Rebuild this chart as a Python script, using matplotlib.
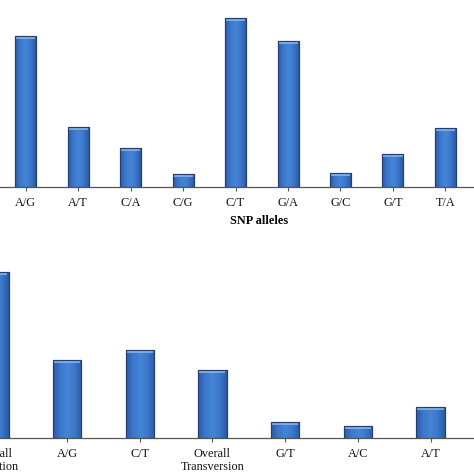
import numpy as np
import matplotlib
matplotlib.use("Agg")
import matplotlib.pyplot as plt
import matplotlib.transforms as mtransforms
from matplotlib.colors import LinearSegmentedColormap

# ---- data ----
top_categories = ["A/G", "A/T", "C/A", "C/G", "C/T", "G/A", "G/C", "G/T", "T/A"]
top_values = [151, 60, 39, 13, 169, 146, 14, 33, 59]
top_xlabel = "SNP alleles"

bottom_categories = ["Overall\nTransition", "A/G", "C/T", "Overall\nTransversion", "G/T", "A/C", "A/T"]
bottom_values = [166, 78, 88, 68, 16, 12, 31]

plt.rcParams["font.family"] = ["Liberation Serif", "DejaVu Serif"]

LABEL_SIZE = 8.8

fig = plt.figure(figsize=(4.74, 4.74), dpi=100)

cmap = LinearSegmentedColormap.from_list(
    "bar", ["#2c5aa2", "#3c78cc", "#4584d6", "#3c78cc", "#2c5aa2"])


def shade_bars(ax, bars):
    grad = np.linspace(0, 1, 64).reshape(1, -1)
    for b in bars:
        x0, y0 = b.get_x(), b.get_y()
        w, h = b.get_width(), b.get_height()
        im = ax.imshow(grad, cmap=cmap, aspect="auto",
                       extent=(x0, x0 + w, y0, y0 + h), zorder=2,
                       interpolation="bicubic")
        im.set_clip_path(b)
        hh = min(2.5, h * 0.3)
        ax.bar(x0 + w / 2, hh, width=w * 0.92, bottom=y0 + h - hh - 0.6,
               color="#8fb6ea", alpha=0.8, zorder=3, linewidth=0)
        ax.add_patch(plt.Rectangle((x0, y0), w, h, fill=False,
                                   edgecolor="#213f72", lw=0.8, zorder=4))


def style(ax):
    for s in ["left", "right", "top"]:
        ax.spines[s].set_visible(False)
    ax.spines["bottom"].set_color("#555555")
    ax.spines["bottom"].set_linewidth(0.9)
    ax.set_yticks([])
    ax.tick_params(axis="x", length=3, width=0.8, color="#555555",
                   labelsize=LABEL_SIZE, pad=4, labelcolor="#111111")


# top chart
ax1 = fig.add_axes([0.0, (474 - 187) / 474, 1.0, 180 / 474])
x1 = np.arange(len(top_categories))
bars1 = ax1.bar(x1, top_values, width=0.4, color="#3c78cc",
                edgecolor="#213f72", linewidth=0.8, zorder=1)
shade_bars(ax1, bars1)
ax1.set_xticks(x1)
ax1.set_xticklabels(top_categories)
ax1.set_xlim(-0.486, 8.543)
ax1.set_ylim(0, 180)
style(ax1)
ax1.set_xlabel(top_xlabel, fontsize=LABEL_SIZE, fontweight="bold")
ax1.xaxis.set_label_coords(259 / 474, (187 - 221) / 180)
ax1.xaxis.label.set_va("center")

# bottom chart
ax2 = fig.add_axes([0.0, (474 - 438) / 474, 1.0, 180 / 474])
x2 = np.arange(len(bottom_categories))
bars2 = ax2.bar(x2, bottom_values, width=0.39, color="#3c78cc",
                edgecolor="#213f72", linewidth=0.8, zorder=1)
shade_bars(ax2, bars2)
ax2.set_xticks(x2)
ax2.set_xticklabels(bottom_categories, linespacing=1.15)
ax2.set_xlim(0.078, 6.598)
ax2.set_ylim(0, 180)
style(ax2)

# labels of categories whose tick falls outside the visible range
off = mtransforms.ScaledTranslation(0, -7 / 72, fig.dpi_scale_trans)
lo, hi = ax2.get_xlim()
for xi, lab in zip(x2, bottom_categories):
    if xi < lo or xi > hi:
        ax2.text(xi, 0, lab, transform=ax2.get_xaxis_transform() + off,
                 ha="center", va="top", fontsize=LABEL_SIZE,
                 color="#111111", linespacing=1.15, clip_on=False)

fig.savefig("out.png", dpi=100)
